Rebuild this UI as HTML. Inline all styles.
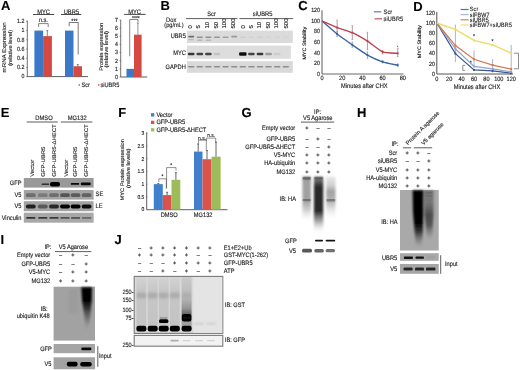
<!DOCTYPE html>
<html><head><meta charset="utf-8"><title>Figure</title>
<style>html,body{margin:0;padding:0;background:#fff;width:520px;height:370px;overflow:hidden}svg{display:block;filter:blur(0.3px)}text{stroke:#222;stroke-width:0.12px;paint-order:stroke;text-rendering:geometricPrecision}</style>
</head><body>
<svg width="520" height="370" viewBox="0 0 520 370" font-family="'Liberation Sans', Arial, sans-serif"><defs>
<filter id="b3" x="-50%" y="-50%" width="200%" height="200%"><feGaussianBlur stdDeviation="0.3"/></filter>
<filter id="b4" x="-50%" y="-50%" width="200%" height="200%"><feGaussianBlur stdDeviation="0.4"/></filter>
<filter id="b5" x="-50%" y="-50%" width="200%" height="200%"><feGaussianBlur stdDeviation="0.5"/></filter>
<filter id="b6" x="-50%" y="-50%" width="200%" height="200%"><feGaussianBlur stdDeviation="0.6"/></filter>
<filter id="b7" x="-50%" y="-50%" width="200%" height="200%"><feGaussianBlur stdDeviation="0.7"/></filter>
<filter id="b8" x="-50%" y="-50%" width="200%" height="200%"><feGaussianBlur stdDeviation="0.8"/></filter>
<filter id="b12" x="-50%" y="-50%" width="200%" height="200%"><feGaussianBlur stdDeviation="1.2"/></filter>
<filter id="b10" x="-50%" y="-50%" width="200%" height="200%"><feGaussianBlur stdDeviation="1.0"/></filter>
<linearGradient id="gG1" x1="0" y1="0" x2="0" y2="1"><stop offset="0" stop-color="#666" stop-opacity="0.7"/><stop offset="0.12" stop-color="#777" stop-opacity="0.7"/><stop offset="0.55" stop-color="#7a7a7a" stop-opacity="0.7"/><stop offset="0.75" stop-color="#999" stop-opacity="0.5"/><stop offset="1" stop-color="#ddd" stop-opacity="0"/></linearGradient>
<linearGradient id="gG2" x1="0" y1="0" x2="0" y2="1"><stop offset="0" stop-color="#666" stop-opacity="0.75"/><stop offset="0.08" stop-color="#444" stop-opacity="0.85"/><stop offset="0.18" stop-color="#1a1a1a" stop-opacity="0.92"/><stop offset="0.62" stop-color="#1a1a1a" stop-opacity="0.92"/><stop offset="0.8" stop-color="#666" stop-opacity="0.55"/><stop offset="1" stop-color="#ddd" stop-opacity="0"/></linearGradient>
<linearGradient id="gG3" x1="0" y1="0" x2="0" y2="1"><stop offset="0" stop-color="#bbb" stop-opacity="0.35"/><stop offset="0.2" stop-color="#999" stop-opacity="0.45"/><stop offset="0.35" stop-color="#666" stop-opacity="0.6"/><stop offset="0.6" stop-color="#777" stop-opacity="0.55"/><stop offset="1" stop-color="#ddd" stop-opacity="0"/></linearGradient>
<linearGradient id="gH2" x1="0" y1="0" x2="0" y2="1"><stop offset="0" stop-color="#000"/><stop offset="0.58" stop-color="#050505"/><stop offset="0.72" stop-color="#2a2a2a" stop-opacity="0.9"/><stop offset="0.86" stop-color="#606060" stop-opacity="0.55"/><stop offset="1" stop-color="#888" stop-opacity="0"/></linearGradient>
<linearGradient id="gH3" x1="0" y1="0" x2="0" y2="1"><stop offset="0" stop-color="#555" stop-opacity="0.6"/><stop offset="0.25" stop-color="#555" stop-opacity="0.62"/><stop offset="0.5" stop-color="#333" stop-opacity="0.8"/><stop offset="0.7" stop-color="#3a3a3a" stop-opacity="0.75"/><stop offset="0.88" stop-color="#666" stop-opacity="0.4"/><stop offset="1" stop-color="#999" stop-opacity="0"/></linearGradient>
<linearGradient id="gI3" x1="0" y1="0" x2="0" y2="1"><stop offset="0" stop-color="#000"/><stop offset="0.3" stop-color="#000"/><stop offset="0.5" stop-color="#222" stop-opacity="0.85"/><stop offset="0.75" stop-color="#555" stop-opacity="0.55"/><stop offset="1" stop-color="#888" stop-opacity="0"/></linearGradient>
<linearGradient id="gJ1" x1="0" y1="0" x2="0" y2="1"><stop offset="0" stop-color="#aaa" stop-opacity="0.15"/><stop offset="0.25" stop-color="#999" stop-opacity="0.3"/><stop offset="1" stop-color="#999" stop-opacity="0.35"/></linearGradient>
<linearGradient id="gJ5" x1="0" y1="0" x2="0" y2="1"><stop offset="0" stop-color="#999" stop-opacity="0.25"/><stop offset="0.4" stop-color="#888" stop-opacity="0.45"/><stop offset="0.6" stop-color="#666" stop-opacity="0.6"/><stop offset="0.7" stop-color="#444" stop-opacity="0.75"/><stop offset="0.85" stop-color="#777" stop-opacity="0.6"/><stop offset="1" stop-color="#777" stop-opacity="0.6"/></linearGradient>
</defs><rect width="520" height="370" fill="#fff"/><text x="0.90" y="10.00" font-size="13" font-weight="bold" fill="#000">A</text>
<line x1="27.30" y1="20.50" x2="27.30" y2="76.60" stroke="#333" stroke-width="0.7"/>
<line x1="27.30" y1="76.60" x2="88.00" y2="76.60" stroke="#333" stroke-width="0.8"/>
<text x="24.40" y="78.40" font-size="5.3" text-anchor="end" fill="#1a1a1a" transform="translate(0 -9.408) scale(1 1.12)">0</text>
<line x1="26.10" y1="76.60" x2="27.30" y2="76.60" stroke="#333" stroke-width="0.5"/>
<text x="24.40" y="69.20" font-size="5.3" text-anchor="end" fill="#1a1a1a" transform="translate(0 -8.304) scale(1 1.12)">0.2</text>
<line x1="26.10" y1="67.40" x2="27.30" y2="67.40" stroke="#333" stroke-width="0.5"/>
<text x="24.40" y="60.00" font-size="5.3" text-anchor="end" fill="#1a1a1a" transform="translate(0 -7.200) scale(1 1.12)">0.4</text>
<line x1="26.10" y1="58.20" x2="27.30" y2="58.20" stroke="#333" stroke-width="0.5"/>
<text x="24.40" y="50.80" font-size="5.3" text-anchor="end" fill="#1a1a1a" transform="translate(0 -6.096) scale(1 1.12)">0.6</text>
<line x1="26.10" y1="49.00" x2="27.30" y2="49.00" stroke="#333" stroke-width="0.5"/>
<text x="24.40" y="41.60" font-size="5.3" text-anchor="end" fill="#1a1a1a" transform="translate(0 -4.992) scale(1 1.12)">0.8</text>
<line x1="26.10" y1="39.80" x2="27.30" y2="39.80" stroke="#333" stroke-width="0.5"/>
<text x="24.40" y="32.40" font-size="5.3" text-anchor="end" fill="#1a1a1a" transform="translate(0 -3.888) scale(1 1.12)">1</text>
<line x1="26.10" y1="30.60" x2="27.30" y2="30.60" stroke="#333" stroke-width="0.5"/>
<text x="24.40" y="23.20" font-size="5.3" text-anchor="end" fill="#1a1a1a" transform="translate(0 -2.784) scale(1 1.12)">1.2</text>
<line x1="26.10" y1="21.40" x2="27.30" y2="21.40" stroke="#333" stroke-width="0.5"/>
<text x="6.20" y="47.40" font-size="5.536" text-anchor="middle" fill="#1a1a1a" transform="translate(6.20 47.40) scale(1 1.12) rotate(-90) translate(-6.20 -47.40)">mRNA Expression</text>
<text x="12.50" y="47.90" font-size="5.179" text-anchor="middle" fill="#1a1a1a" transform="translate(12.50 47.90) scale(1 1.12) rotate(-90) translate(-12.50 -47.90)">(relative level)</text>
<rect x="34.40" y="30.60" width="8.70" height="46.00" fill="#3b78c8"/>
<rect x="43.10" y="36.12" width="8.80" height="40.48" fill="#d44a43"/>
<rect x="65.00" y="30.60" width="8.50" height="46.00" fill="#3b78c8"/>
<rect x="73.50" y="66.25" width="8.50" height="10.35" fill="#d44a43"/>
<line x1="47.30" y1="36.12" x2="47.30" y2="30.60" stroke="#333" stroke-width="0.6"/>
<line x1="46.30" y1="30.60" x2="48.30" y2="30.60" stroke="#333" stroke-width="0.6"/>
<line x1="77.80" y1="66.25" x2="77.80" y2="64.64" stroke="#333" stroke-width="0.6"/>
<line x1="76.80" y1="64.64" x2="78.80" y2="64.64" stroke="#333" stroke-width="0.6"/>
<line x1="38.70" y1="30.60" x2="38.70" y2="30.37" stroke="#333" stroke-width="0.6"/>
<polyline points="38.60,27.00 38.60,23.60 48.20,23.60 48.20,27.00" fill="none" stroke="#333" stroke-width="0.6"/>
<text x="43.40" y="21.60" font-size="5.6" text-anchor="middle" fill="#1a1a1a" transform="translate(0 -2.592) scale(1 1.12)">n.s.</text>
<polyline points="69.20,26.30 69.20,22.50 78.20,22.50 78.20,54.50" fill="none" stroke="#333" stroke-width="0.65"/>
<text x="74.50" y="23.30" font-size="5.4" text-anchor="middle" fill="#1a1a1a" transform="translate(0 -2.796) scale(1 1.12)">***</text>
<text x="43.60" y="13.80" font-size="5.8" text-anchor="middle" fill="#1a1a1a" transform="translate(0 -1.656) scale(1 1.12)">MYC</text>
<line x1="33.00" y1="14.50" x2="54.20" y2="14.50" stroke="#333" stroke-width="0.9"/>
<text x="71.40" y="13.80" font-size="5.8" text-anchor="middle" fill="#1a1a1a" transform="translate(0 -1.656) scale(1 1.12)">UBR5</text>
<line x1="61.00" y1="14.50" x2="81.20" y2="14.50" stroke="#333" stroke-width="0.9"/>
<rect x="78.60" y="84.20" width="1.40" height="1.40" fill="#3b78c8"/>
<text x="81.50" y="86.90" font-size="5.6" fill="#1a1a1a" transform="translate(0 -10.428) scale(1 1.12)">Scr</text>
<rect x="98.00" y="84.20" width="1.40" height="1.40" fill="#d44a43"/>
<text x="100.40" y="86.90" font-size="5.6" fill="#1a1a1a" transform="translate(0 -10.428) scale(1 1.12)">siUBR5</text>
<line x1="120.70" y1="19.80" x2="120.70" y2="77.00" stroke="#333" stroke-width="0.7"/>
<line x1="120.70" y1="77.00" x2="147.20" y2="77.00" stroke="#333" stroke-width="0.8"/>
<text x="118.00" y="78.80" font-size="5.3" text-anchor="end" fill="#1a1a1a" transform="translate(0 -9.456) scale(1 1.12)">0</text>
<line x1="119.50" y1="77.00" x2="120.70" y2="77.00" stroke="#333" stroke-width="0.5"/>
<text x="118.00" y="70.66" font-size="5.3" text-anchor="end" fill="#1a1a1a" transform="translate(0 -8.479) scale(1 1.12)">1</text>
<line x1="119.50" y1="68.86" x2="120.70" y2="68.86" stroke="#333" stroke-width="0.5"/>
<text x="118.00" y="62.52" font-size="5.3" text-anchor="end" fill="#1a1a1a" transform="translate(0 -7.502) scale(1 1.12)">2</text>
<line x1="119.50" y1="60.72" x2="120.70" y2="60.72" stroke="#333" stroke-width="0.5"/>
<text x="118.00" y="54.38" font-size="5.3" text-anchor="end" fill="#1a1a1a" transform="translate(0 -6.526) scale(1 1.12)">3</text>
<line x1="119.50" y1="52.58" x2="120.70" y2="52.58" stroke="#333" stroke-width="0.5"/>
<text x="118.00" y="46.24" font-size="5.3" text-anchor="end" fill="#1a1a1a" transform="translate(0 -5.549) scale(1 1.12)">4</text>
<line x1="119.50" y1="44.44" x2="120.70" y2="44.44" stroke="#333" stroke-width="0.5"/>
<text x="118.00" y="38.10" font-size="5.3" text-anchor="end" fill="#1a1a1a" transform="translate(0 -4.572) scale(1 1.12)">5</text>
<line x1="119.50" y1="36.30" x2="120.70" y2="36.30" stroke="#333" stroke-width="0.5"/>
<text x="118.00" y="29.96" font-size="5.3" text-anchor="end" fill="#1a1a1a" transform="translate(0 -3.595) scale(1 1.12)">6</text>
<line x1="119.50" y1="28.16" x2="120.70" y2="28.16" stroke="#333" stroke-width="0.5"/>
<text x="118.00" y="21.82" font-size="5.3" text-anchor="end" fill="#1a1a1a" transform="translate(0 -2.618) scale(1 1.12)">7</text>
<line x1="119.50" y1="20.02" x2="120.70" y2="20.02" stroke="#333" stroke-width="0.5"/>
<text x="103.20" y="46.80" font-size="5.179" text-anchor="middle" fill="#1a1a1a" transform="translate(103.20 46.80) scale(1 1.12) rotate(-90) translate(-103.20 -46.80)">Protein expression</text>
<text x="108.40" y="49.20" font-size="5.268" text-anchor="middle" fill="#1a1a1a" transform="translate(108.40 49.20) scale(1 1.12) rotate(-90) translate(-108.40 -49.20)">(relative level)</text>
<rect x="126.50" y="68.86" width="7.50" height="8.14" fill="#3b78c8"/>
<rect x="134.00" y="34.67" width="7.60" height="42.33" fill="#d44a43"/>
<line x1="137.90" y1="34.67" x2="137.90" y2="23.00" stroke="#444" stroke-width="0.6"/>
<line x1="136.90" y1="23.00" x2="138.90" y2="23.00" stroke="#444" stroke-width="0.6"/>
<polyline points="129.70,56.30 129.70,19.50 138.00,19.50 138.00,22.00" fill="none" stroke="#333" stroke-width="0.6"/>
<text x="135.90" y="20.40" font-size="5.0" text-anchor="middle" fill="#1a1a1a" transform="translate(0 -2.448) scale(1 1.12)">****</text>
<text x="134.60" y="13.80" font-size="5.8" text-anchor="middle" fill="#1a1a1a" transform="translate(0 -1.656) scale(1 1.12)">MYC</text>
<line x1="124.20" y1="14.40" x2="145.60" y2="14.40" stroke="#333" stroke-width="0.9"/>
<text x="160.50" y="10.20" font-size="13" font-weight="bold" fill="#000">B</text>
<text x="166.00" y="22.20" font-size="5.8" fill="#1a1a1a" transform="translate(0 -2.664) scale(1 1.12)">Dox</text>
<text x="164.30" y="27.40" font-size="5.6" fill="#1a1a1a" transform="translate(0 -3.288) scale(1 1.12)">(pg/mL)</text>
<text x="211.60" y="16.40" font-size="5.8" text-anchor="middle" fill="#1a1a1a" transform="translate(0 -1.968) scale(1 1.12)">Scr</text>
<line x1="186.00" y1="18.60" x2="237.40" y2="18.60" stroke="#333" stroke-width="0.8"/>
<text x="262.60" y="16.40" font-size="5.8" text-anchor="middle" fill="#1a1a1a" transform="translate(0 -1.968) scale(1 1.12)">siUBR5</text>
<line x1="239.40" y1="18.60" x2="293.20" y2="18.60" stroke="#333" stroke-width="0.8"/>
<text x="192.00" y="28.60" font-size="5.536" fill="#1a1a1a" transform="translate(192.00 28.60) scale(1 1.12) rotate(-90) translate(-192.00 -28.60)">0</text>
<text x="200.10" y="28.60" font-size="5.536" fill="#1a1a1a" transform="translate(200.10 28.60) scale(1 1.12) rotate(-90) translate(-200.10 -28.60)">5</text>
<text x="208.80" y="28.60" font-size="5.536" fill="#1a1a1a" transform="translate(208.80 28.60) scale(1 1.12) rotate(-90) translate(-208.80 -28.60)">10</text>
<text x="217.60" y="28.60" font-size="5.536" fill="#1a1a1a" transform="translate(217.60 28.60) scale(1 1.12) rotate(-90) translate(-217.60 -28.60)">50</text>
<text x="226.50" y="28.60" font-size="5.536" fill="#1a1a1a" transform="translate(226.50 28.60) scale(1 1.12) rotate(-90) translate(-226.50 -28.60)">100</text>
<text x="235.40" y="28.60" font-size="5.536" fill="#1a1a1a" transform="translate(235.40 28.60) scale(1 1.12) rotate(-90) translate(-235.40 -28.60)">500</text>
<text x="244.80" y="28.60" font-size="5.536" fill="#1a1a1a" transform="translate(244.80 28.60) scale(1 1.12) rotate(-90) translate(-244.80 -28.60)">0</text>
<text x="253.20" y="28.60" font-size="5.536" fill="#1a1a1a" transform="translate(253.20 28.60) scale(1 1.12) rotate(-90) translate(-253.20 -28.60)">5</text>
<text x="261.00" y="28.60" font-size="5.536" fill="#1a1a1a" transform="translate(261.00 28.60) scale(1 1.12) rotate(-90) translate(-261.00 -28.60)">10</text>
<text x="269.80" y="28.60" font-size="5.536" fill="#1a1a1a" transform="translate(269.80 28.60) scale(1 1.12) rotate(-90) translate(-269.80 -28.60)">50</text>
<text x="278.50" y="28.60" font-size="5.536" fill="#1a1a1a" transform="translate(278.50 28.60) scale(1 1.12) rotate(-90) translate(-278.50 -28.60)">100</text>
<text x="287.80" y="28.60" font-size="5.536" fill="#1a1a1a" transform="translate(287.80 28.60) scale(1 1.12) rotate(-90) translate(-287.80 -28.60)">500</text>
<rect x="187.00" y="30.60" width="105.80" height="12.40" fill="#dbdbdb"/>
<rect x="187.00" y="45.60" width="103.80" height="13.20" fill="#dddddd"/>
<rect x="187.00" y="61.20" width="105.80" height="11.60" fill="#d9d9d9"/>
<text x="185.80" y="38.30" font-size="5.7" text-anchor="end" fill="#1a1a1a" transform="translate(0 -4.596) scale(1 1.12)">UBR5</text>
<text x="185.80" y="55.30" font-size="5.7" text-anchor="end" fill="#1a1a1a" transform="translate(0 -6.636) scale(1 1.12)">MYC</text>
<text x="185.80" y="69.20" font-size="5.7" text-anchor="end" fill="#1a1a1a" transform="translate(0 -8.304) scale(1 1.12)">GAPDH</text>
<rect x="188.20" y="35.80" width="6.00" height="1.60" rx="0.8" fill="#222" fill-opacity="0.60" filter="url(#b4)"/>
<rect x="188.40" y="38.90" width="5.60" height="1.30" rx="0.6" fill="#444" fill-opacity="0.22" filter="url(#b5)"/>
<rect x="196.80" y="36.50" width="6.00" height="1.60" rx="0.8" fill="#222" fill-opacity="0.42" filter="url(#b4)"/>
<rect x="197.00" y="39.60" width="5.60" height="1.30" rx="0.6" fill="#444" fill-opacity="0.22" filter="url(#b5)"/>
<rect x="205.40" y="36.50" width="6.00" height="1.60" rx="0.8" fill="#222" fill-opacity="0.42" filter="url(#b4)"/>
<rect x="205.60" y="39.60" width="5.60" height="1.30" rx="0.6" fill="#444" fill-opacity="0.22" filter="url(#b5)"/>
<rect x="214.00" y="36.50" width="6.00" height="1.60" rx="0.8" fill="#222" fill-opacity="0.38" filter="url(#b4)"/>
<rect x="222.60" y="36.50" width="6.00" height="1.60" rx="0.8" fill="#222" fill-opacity="0.32" filter="url(#b4)"/>
<rect x="231.20" y="35.80" width="6.00" height="1.60" rx="0.8" fill="#222" fill-opacity="0.35" filter="url(#b4)"/>
<rect x="239.80" y="36.50" width="6.00" height="1.60" rx="0.8" fill="#222" fill-opacity="0.06" filter="url(#b4)"/>
<rect x="248.40" y="36.50" width="6.00" height="1.60" rx="0.8" fill="#222" fill-opacity="0.04" filter="url(#b4)"/>
<rect x="257.00" y="36.50" width="6.00" height="1.60" rx="0.8" fill="#222" fill-opacity="0.05" filter="url(#b4)"/>
<rect x="265.60" y="36.50" width="6.00" height="1.60" rx="0.8" fill="#222" fill-opacity="0.03" filter="url(#b4)"/>
<rect x="274.20" y="36.50" width="6.00" height="1.60" rx="0.8" fill="#222" fill-opacity="0.03" filter="url(#b4)"/>
<rect x="282.80" y="36.50" width="6.00" height="1.60" rx="0.8" fill="#222" fill-opacity="0.03" filter="url(#b4)"/>
<rect x="187.90" y="52.70" width="6.60" height="2.60" rx="1.0" fill="#111" fill-opacity="0.80" filter="url(#b4)"/>
<rect x="196.50" y="52.70" width="6.60" height="2.60" rx="1.0" fill="#111" fill-opacity="0.75" filter="url(#b4)"/>
<rect x="205.10" y="52.70" width="6.60" height="2.60" rx="1.0" fill="#111" fill-opacity="0.75" filter="url(#b4)"/>
<rect x="213.70" y="52.70" width="6.60" height="2.60" rx="1.0" fill="#111" fill-opacity="0.12" filter="url(#b4)"/>
<rect x="239.10" y="52.30" width="7.40" height="3.40" rx="1.0" fill="#111" fill-opacity="1.00" filter="url(#b4)"/>
<rect x="248.10" y="52.70" width="6.60" height="2.60" rx="1.0" fill="#111" fill-opacity="0.75" filter="url(#b4)"/>
<rect x="256.70" y="52.70" width="6.60" height="2.60" rx="1.0" fill="#111" fill-opacity="0.80" filter="url(#b4)"/>
<rect x="265.30" y="52.70" width="6.60" height="2.60" rx="1.0" fill="#111" fill-opacity="0.30" filter="url(#b4)"/>
<rect x="273.90" y="52.70" width="6.60" height="2.60" rx="1.0" fill="#111" fill-opacity="0.07" filter="url(#b4)"/>
<rect x="188.00" y="66.00" width="6.40" height="1.50" rx="0.7" fill="#444" fill-opacity="0.50" filter="url(#b4)"/>
<rect x="196.60" y="66.00" width="6.40" height="1.50" rx="0.7" fill="#444" fill-opacity="0.50" filter="url(#b4)"/>
<rect x="205.20" y="66.00" width="6.40" height="1.50" rx="0.7" fill="#444" fill-opacity="0.50" filter="url(#b4)"/>
<rect x="213.80" y="66.00" width="6.40" height="1.50" rx="0.7" fill="#444" fill-opacity="0.50" filter="url(#b4)"/>
<rect x="222.40" y="66.00" width="6.40" height="1.50" rx="0.7" fill="#444" fill-opacity="0.50" filter="url(#b4)"/>
<rect x="231.00" y="66.00" width="6.40" height="1.50" rx="0.7" fill="#444" fill-opacity="0.50" filter="url(#b4)"/>
<rect x="239.60" y="66.00" width="6.40" height="1.50" rx="0.7" fill="#444" fill-opacity="0.50" filter="url(#b4)"/>
<rect x="248.20" y="66.00" width="6.40" height="1.50" rx="0.7" fill="#444" fill-opacity="0.50" filter="url(#b4)"/>
<rect x="256.80" y="66.00" width="6.40" height="1.50" rx="0.7" fill="#444" fill-opacity="0.50" filter="url(#b4)"/>
<rect x="265.40" y="66.00" width="6.40" height="1.50" rx="0.7" fill="#444" fill-opacity="0.50" filter="url(#b4)"/>
<rect x="274.00" y="66.00" width="6.40" height="1.50" rx="0.7" fill="#444" fill-opacity="0.50" filter="url(#b4)"/>
<rect x="282.60" y="66.00" width="6.40" height="1.50" rx="0.7" fill="#444" fill-opacity="0.50" filter="url(#b4)"/>
<text x="298.20" y="10.40" font-size="13" font-weight="bold" fill="#000">C</text>
<line x1="322.00" y1="10.20" x2="322.00" y2="74.00" stroke="#6a6a6a" stroke-width="1.1"/>
<line x1="322.00" y1="74.00" x2="403.50" y2="74.00" stroke="#6a6a6a" stroke-width="1.1"/>
<text x="320.00" y="75.80" font-size="5.3" text-anchor="end" fill="#1a1a1a" transform="translate(0 -9.096) scale(1 1.12)">0</text>
<text x="320.00" y="65.20" font-size="5.3" text-anchor="end" fill="#1a1a1a" transform="translate(0 -7.824) scale(1 1.12)">20</text>
<text x="320.00" y="54.60" font-size="5.3" text-anchor="end" fill="#1a1a1a" transform="translate(0 -6.552) scale(1 1.12)">40</text>
<text x="320.00" y="44.00" font-size="5.3" text-anchor="end" fill="#1a1a1a" transform="translate(0 -5.280) scale(1 1.12)">60</text>
<text x="320.00" y="33.40" font-size="5.3" text-anchor="end" fill="#1a1a1a" transform="translate(0 -4.008) scale(1 1.12)">80</text>
<text x="320.00" y="22.80" font-size="5.3" text-anchor="end" fill="#1a1a1a" transform="translate(0 -2.736) scale(1 1.12)">100</text>
<text x="320.00" y="12.20" font-size="5.3" text-anchor="end" fill="#1a1a1a" transform="translate(0 -1.464) scale(1 1.12)">120</text>
<text x="322.00" y="79.80" font-size="5.6" text-anchor="middle" fill="#1a1a1a" transform="translate(0 -9.576) scale(1 1.12)">0</text>
<text x="342.20" y="79.80" font-size="5.6" text-anchor="middle" fill="#1a1a1a" transform="translate(0 -9.576) scale(1 1.12)">20</text>
<text x="362.40" y="79.80" font-size="5.6" text-anchor="middle" fill="#1a1a1a" transform="translate(0 -9.576) scale(1 1.12)">40</text>
<text x="382.60" y="79.80" font-size="5.6" text-anchor="middle" fill="#1a1a1a" transform="translate(0 -9.576) scale(1 1.12)">60</text>
<text x="402.80" y="79.80" font-size="5.6" text-anchor="middle" fill="#1a1a1a" transform="translate(0 -9.576) scale(1 1.12)">80</text>
<text x="364.30" y="88.10" font-size="5.7" text-anchor="middle" fill="#1a1a1a" transform="translate(0 -10.572) scale(1 1.12)">Minutes after CHX</text>
<text x="305.60" y="43.30" font-size="4.911" text-anchor="middle" fill="#1a1a1a" transform="translate(305.60 43.30) scale(1 1.12) rotate(-90) translate(-305.60 -43.30)">MYC Stability</text>
<line x1="337.15" y1="20.20" x2="337.15" y2="35.00" stroke="#a0808c" stroke-width="0.8"/>
<line x1="336.35" y1="20.20" x2="337.95" y2="20.20" stroke="#a0808c" stroke-width="0.6"/>
<line x1="336.35" y1="35.00" x2="337.95" y2="35.00" stroke="#a0808c" stroke-width="0.6"/>
<line x1="352.30" y1="25.70" x2="352.30" y2="39.50" stroke="#a0808c" stroke-width="0.8"/>
<line x1="351.50" y1="25.70" x2="353.10" y2="25.70" stroke="#a0808c" stroke-width="0.6"/>
<line x1="351.50" y1="39.50" x2="353.10" y2="39.50" stroke="#a0808c" stroke-width="0.6"/>
<line x1="367.45" y1="32.30" x2="367.45" y2="49.70" stroke="#a0808c" stroke-width="0.8"/>
<line x1="366.65" y1="32.30" x2="368.25" y2="32.30" stroke="#a0808c" stroke-width="0.6"/>
<line x1="366.65" y1="49.70" x2="368.25" y2="49.70" stroke="#a0808c" stroke-width="0.6"/>
<line x1="382.60" y1="50.30" x2="382.60" y2="54.00" stroke="#a0808c" stroke-width="0.8"/>
<line x1="381.80" y1="50.30" x2="383.40" y2="50.30" stroke="#a0808c" stroke-width="0.6"/>
<line x1="381.80" y1="54.00" x2="383.40" y2="54.00" stroke="#a0808c" stroke-width="0.6"/>
<line x1="397.75" y1="48.60" x2="397.75" y2="56.50" stroke="#a0808c" stroke-width="0.8"/>
<line x1="396.95" y1="48.60" x2="398.55" y2="48.60" stroke="#a0808c" stroke-width="0.6"/>
<line x1="396.95" y1="56.50" x2="398.55" y2="56.50" stroke="#a0808c" stroke-width="0.6"/>
<line x1="337.15" y1="31.50" x2="337.15" y2="36.50" stroke="#8090b0" stroke-width="0.8"/>
<line x1="336.35" y1="31.50" x2="337.95" y2="31.50" stroke="#8090b0" stroke-width="0.6"/>
<line x1="336.35" y1="36.50" x2="337.95" y2="36.50" stroke="#8090b0" stroke-width="0.6"/>
<line x1="352.30" y1="42.00" x2="352.30" y2="47.30" stroke="#8090b0" stroke-width="0.8"/>
<line x1="351.50" y1="42.00" x2="353.10" y2="42.00" stroke="#8090b0" stroke-width="0.6"/>
<line x1="351.50" y1="47.30" x2="353.10" y2="47.30" stroke="#8090b0" stroke-width="0.6"/>
<line x1="367.45" y1="51.80" x2="367.45" y2="58.40" stroke="#8090b0" stroke-width="0.8"/>
<line x1="366.65" y1="51.80" x2="368.25" y2="51.80" stroke="#8090b0" stroke-width="0.6"/>
<line x1="366.65" y1="58.40" x2="368.25" y2="58.40" stroke="#8090b0" stroke-width="0.6"/>
<line x1="382.60" y1="60.40" x2="382.60" y2="63.00" stroke="#8090b0" stroke-width="0.8"/>
<line x1="381.80" y1="60.40" x2="383.40" y2="60.40" stroke="#8090b0" stroke-width="0.6"/>
<line x1="381.80" y1="63.00" x2="383.40" y2="63.00" stroke="#8090b0" stroke-width="0.6"/>
<line x1="397.75" y1="63.80" x2="397.75" y2="66.60" stroke="#8090b0" stroke-width="0.8"/>
<line x1="396.95" y1="63.80" x2="398.55" y2="63.80" stroke="#8090b0" stroke-width="0.6"/>
<line x1="396.95" y1="66.60" x2="398.55" y2="66.60" stroke="#8090b0" stroke-width="0.6"/>
<text x="397.75" y="49.00" font-size="4.5" text-anchor="middle" fill="#1a1a1a" transform="translate(0 -5.880) scale(1 1.12)" style="stroke:none">*</text>
<path d="M322.00,21.00 C323.51,22.30 334.12,31.60 337.15,33.98 C340.18,36.37 349.27,42.74 352.30,44.85 C355.33,46.96 364.42,53.38 367.45,55.08 C370.48,56.77 379.57,60.80 382.60,61.81 C385.63,62.82 396.24,64.86 397.75,65.20" fill="none" stroke="#3a62a2" stroke-width="1.3" stroke-linejoin="round"/>
<path d="M322.00,21.00 C323.51,21.65 334.12,26.35 337.15,27.52 C340.18,28.68 349.27,31.30 352.30,32.66 C355.33,34.02 364.42,39.22 367.45,41.14 C370.48,43.06 379.57,50.62 382.60,51.85 C385.63,53.07 396.24,53.23 397.75,53.38" fill="none" stroke="#bd3f4a" stroke-width="1.3" stroke-linejoin="round"/>
<rect x="336.25" y="33.09" width="1.8" height="1.8" fill="#3a62a2"/>
<rect x="351.40" y="43.95" width="1.8" height="1.8" fill="#3a62a2"/>
<rect x="366.55" y="54.18" width="1.8" height="1.8" fill="#3a62a2"/>
<rect x="381.70" y="60.91" width="1.8" height="1.8" fill="#3a62a2"/>
<rect x="396.85" y="64.30" width="1.8" height="1.8" fill="#3a62a2"/>
<rect x="336.25" y="26.62" width="1.8" height="1.8" fill="#bd3f4a"/>
<rect x="351.40" y="31.76" width="1.8" height="1.8" fill="#bd3f4a"/>
<rect x="366.55" y="40.24" width="1.8" height="1.8" fill="#bd3f4a"/>
<rect x="381.70" y="50.95" width="1.8" height="1.8" fill="#bd3f4a"/>
<rect x="396.85" y="52.48" width="1.8" height="1.8" fill="#bd3f4a"/>
<line x1="373.80" y1="11.80" x2="381.30" y2="11.80" stroke="#6a88bb" stroke-width="1.3"/>
<text x="383.60" y="13.90" font-size="5.6" fill="#1a1a1a" transform="translate(0 -1.668) scale(1 1.12)" letter-spacing="0.12">Scr</text>
<line x1="374.50" y1="18.80" x2="382.00" y2="18.80" stroke="#c0606c" stroke-width="1.3"/>
<text x="383.60" y="20.90" font-size="5.6" fill="#1a1a1a" transform="translate(0 -2.508) scale(1 1.12)" letter-spacing="0.12">siUBR5</text>
<text x="413.20" y="10.50" font-size="13" font-weight="bold" fill="#000">D</text>
<line x1="436.80" y1="11.80" x2="436.80" y2="74.00" stroke="#555" stroke-width="1.0"/>
<line x1="436.80" y1="74.00" x2="513.00" y2="74.00" stroke="#555" stroke-width="1.0"/>
<text x="434.90" y="75.80" font-size="5.3" text-anchor="end" fill="#1a1a1a" transform="translate(0 -9.096) scale(1 1.12)">0</text>
<text x="434.90" y="65.60" font-size="5.3" text-anchor="end" fill="#1a1a1a" transform="translate(0 -7.872) scale(1 1.12)">20</text>
<text x="434.90" y="55.40" font-size="5.3" text-anchor="end" fill="#1a1a1a" transform="translate(0 -6.648) scale(1 1.12)">40</text>
<text x="434.90" y="45.20" font-size="5.3" text-anchor="end" fill="#1a1a1a" transform="translate(0 -5.424) scale(1 1.12)">60</text>
<text x="434.90" y="35.00" font-size="5.3" text-anchor="end" fill="#1a1a1a" transform="translate(0 -4.200) scale(1 1.12)">80</text>
<text x="434.90" y="24.80" font-size="5.3" text-anchor="end" fill="#1a1a1a" transform="translate(0 -2.976) scale(1 1.12)">100</text>
<text x="434.90" y="14.60" font-size="5.3" text-anchor="end" fill="#1a1a1a" transform="translate(0 -1.752) scale(1 1.12)">120</text>
<text x="436.80" y="80.60" font-size="5.6" text-anchor="middle" fill="#1a1a1a" transform="translate(0 -9.672) scale(1 1.12)">0</text>
<text x="449.20" y="80.60" font-size="5.6" text-anchor="middle" fill="#1a1a1a" transform="translate(0 -9.672) scale(1 1.12)">20</text>
<text x="461.60" y="80.60" font-size="5.6" text-anchor="middle" fill="#1a1a1a" transform="translate(0 -9.672) scale(1 1.12)">40</text>
<text x="474.00" y="80.60" font-size="5.6" text-anchor="middle" fill="#1a1a1a" transform="translate(0 -9.672) scale(1 1.12)">60</text>
<text x="486.40" y="80.60" font-size="5.6" text-anchor="middle" fill="#1a1a1a" transform="translate(0 -9.672) scale(1 1.12)">80</text>
<text x="498.80" y="80.60" font-size="5.6" text-anchor="middle" fill="#1a1a1a" transform="translate(0 -9.672) scale(1 1.12)">100</text>
<text x="511.20" y="80.60" font-size="5.6" text-anchor="middle" fill="#1a1a1a" transform="translate(0 -9.672) scale(1 1.12)">120</text>
<text x="477.00" y="88.60" font-size="5.7" text-anchor="middle" fill="#1a1a1a" transform="translate(0 -10.632) scale(1 1.12)">Minutes after CHX</text>
<text x="421.00" y="41.80" font-size="4.911" text-anchor="middle" fill="#1a1a1a" transform="translate(421.00 41.80) scale(1 1.12) rotate(-90) translate(-421.00 -41.80)">MYC Stability</text>
<line x1="455.40" y1="24.50" x2="455.40" y2="62.00" stroke="#aab3c8" stroke-width="1.0"/>
<line x1="474.00" y1="50.30" x2="474.00" y2="67.30" stroke="#aab3c8" stroke-width="1.0"/>
<line x1="492.60" y1="59.20" x2="492.60" y2="72.50" stroke="#aab3c8" stroke-width="1.0"/>
<line x1="511.20" y1="45.00" x2="511.20" y2="73.30" stroke="#aab3c8" stroke-width="1.0"/>
<polyline points="436.80,23.00 455.40,53.60 474.00,69.92 492.60,70.94 511.20,73.23" fill="none" stroke="#3f5591" stroke-width="1.2"/>
<rect x="454.40" y="52.60" width="2" height="2" fill="#3f5591"/>
<rect x="473.00" y="68.92" width="2" height="2" fill="#3f5591"/>
<rect x="491.60" y="69.94" width="2" height="2" fill="#3f5591"/>
<rect x="510.20" y="72.23" width="2" height="2" fill="#3f5591"/>
<polyline points="436.80,23.00 455.40,48.75 474.00,66.35 492.60,68.90 511.20,71.81" fill="none" stroke="#8fa6cf" stroke-width="1.2"/>
<rect x="454.40" y="47.75" width="2" height="2" fill="#8fa6cf"/>
<rect x="473.00" y="65.35" width="2" height="2" fill="#8fa6cf"/>
<rect x="491.60" y="67.90" width="2" height="2" fill="#8fa6cf"/>
<rect x="510.20" y="70.81" width="2" height="2" fill="#8fa6cf"/>
<polyline points="436.80,23.00 455.40,45.59 474.00,59.21 492.60,65.08 511.20,69.10" fill="none" stroke="#d6784a" stroke-width="1.2"/>
<rect x="454.40" y="44.59" width="2" height="2" fill="#d6784a"/>
<rect x="473.00" y="58.21" width="2" height="2" fill="#d6784a"/>
<rect x="491.60" y="64.08" width="2" height="2" fill="#d6784a"/>
<rect x="510.20" y="68.10" width="2" height="2" fill="#d6784a"/>
<polyline points="436.80,23.00 455.40,29.38 474.00,40.34 492.60,44.93 511.20,53.09" fill="none" stroke="#eedb66" stroke-width="1.4"/>
<rect x="454.40" y="28.38" width="2" height="2" fill="#eedb66"/>
<rect x="473.00" y="39.34" width="2" height="2" fill="#eedb66"/>
<rect x="491.60" y="43.93" width="2" height="2" fill="#eedb66"/>
<rect x="510.20" y="52.09" width="2" height="2" fill="#eedb66"/>
<text x="474.00" y="38.20" font-size="5.0" text-anchor="middle" fill="#1a1a1a" transform="translate(0 -4.584) scale(1 1.12)">*</text>
<text x="492.60" y="43.40" font-size="5.0" text-anchor="middle" fill="#1a1a1a" transform="translate(0 -5.208) scale(1 1.12)">*</text>
<text x="471.00" y="63.50" font-size="4.5" text-anchor="middle" fill="#1a1a1a" transform="translate(0 -7.620) scale(1 1.12)">*</text>
<polyline points="465.20,65.30 462.80,65.30 462.80,70.40 465.20,70.40" fill="none" stroke="#444" stroke-width="0.6"/>
<polyline points="514.00,53.20 518.50,53.20 518.50,68.80 514.00,68.80" fill="none" stroke="#444" stroke-width="0.6"/>
<line x1="460.60" y1="9.50" x2="468.60" y2="9.50" stroke="#5d6d9c" stroke-width="1.2"/>
<text x="469.80" y="11.40" font-size="5.4" fill="#1a1a1a" transform="translate(0 -1.368) scale(1 1.12)" letter-spacing="0.15">Scr</text>
<line x1="460.60" y1="14.65" x2="468.60" y2="14.65" stroke="#a9b8d6" stroke-width="1.2"/>
<text x="469.80" y="16.55" font-size="5.4" fill="#1a1a1a" transform="translate(0 -1.986) scale(1 1.12)" letter-spacing="0.15">siFBW7</text>
<line x1="460.60" y1="19.80" x2="468.60" y2="19.80" stroke="#c98a55" stroke-width="1.2"/>
<text x="469.80" y="21.70" font-size="5.4" fill="#1a1a1a" transform="translate(0 -2.604) scale(1 1.12)" letter-spacing="0.15">siUBR5</text>
<line x1="460.60" y1="24.95" x2="468.60" y2="24.95" stroke="#efdf7a" stroke-width="1.2"/>
<text x="469.80" y="26.85" font-size="5.4" fill="#1a1a1a" transform="translate(0 -3.222) scale(1 1.12)" letter-spacing="0.15">siFBW7+siUBR5</text>
<text x="0.80" y="117.20" font-size="13" font-weight="bold" fill="#000">E</text>
<text x="44.00" y="120.20" font-size="5.8" text-anchor="middle" fill="#1a1a1a" transform="translate(0 -14.424) scale(1 1.12)">DMSO</text>
<line x1="26.60" y1="122.00" x2="57.80" y2="122.00" stroke="#333" stroke-width="0.8"/>
<text x="77.20" y="120.20" font-size="5.8" text-anchor="middle" fill="#1a1a1a" transform="translate(0 -14.424) scale(1 1.12)">MG132</text>
<line x1="60.80" y1="122.00" x2="92.40" y2="122.00" stroke="#333" stroke-width="0.8"/>
<text x="33.90" y="176.80" font-size="5.357" fill="#1a1a1a" transform="translate(33.90 176.80) scale(1 1.12) rotate(-90) translate(-33.90 -176.80)">Vector</text>
<text x="44.90" y="176.80" font-size="5.357" fill="#1a1a1a" transform="translate(44.90 176.80) scale(1 1.12) rotate(-90) translate(-44.90 -176.80)">GFP-UBR5</text>
<text x="56.10" y="176.80" font-size="5.357" fill="#1a1a1a" transform="translate(56.10 176.80) scale(1 1.12) rotate(-90) translate(-56.10 -176.80)">GFP-UBR5-ΔHECT</text>
<text x="68.10" y="176.80" font-size="5.357" fill="#1a1a1a" transform="translate(68.10 176.80) scale(1 1.12) rotate(-90) translate(-68.10 -176.80)">Vector</text>
<text x="76.90" y="176.80" font-size="5.357" fill="#1a1a1a" transform="translate(76.90 176.80) scale(1 1.12) rotate(-90) translate(-76.90 -176.80)">GFP-UBR5</text>
<text x="87.90" y="176.80" font-size="5.357" fill="#1a1a1a" transform="translate(87.90 176.80) scale(1 1.12) rotate(-90) translate(-87.90 -176.80)">GFP-UBR5-ΔHECT</text>
<rect x="23.80" y="178.00" width="69.80" height="9.60" fill="#999999"/>
<text x="21.50" y="184.80" font-size="5.7" text-anchor="end" fill="#1a1a1a" transform="translate(0 -22.176) scale(1 1.12)">GFP</text>
<rect x="23.80" y="190.00" width="69.80" height="9.60" fill="#a3a3a3"/>
<text x="21.50" y="196.80" font-size="5.7" text-anchor="end" fill="#1a1a1a" transform="translate(0 -23.616) scale(1 1.12)">V5</text>
<rect x="23.80" y="201.20" width="69.80" height="10.00" fill="#a2a2a2"/>
<text x="21.50" y="208.20" font-size="5.7" text-anchor="end" fill="#1a1a1a" transform="translate(0 -24.984) scale(1 1.12)">V5</text>
<rect x="23.80" y="212.70" width="69.80" height="10.00" fill="#a8a8a8"/>
<text x="21.50" y="219.70" font-size="5.7" text-anchor="end" fill="#1a1a1a" transform="translate(0 -26.364) scale(1 1.12)">Vinculin</text>
<text x="95.60" y="196.00" font-size="5.8" fill="#1a1a1a" transform="translate(0 -23.520) scale(1 1.12)">SE</text>
<text x="95.60" y="207.80" font-size="5.8" fill="#1a1a1a" transform="translate(0 -24.936) scale(1 1.12)">LE</text>
<rect x="41.50" y="183.50" width="7.70" height="1.40" rx="0.7" fill="#111" fill-opacity="0.75" filter="url(#b4)"/>
<rect x="50.00" y="181.90" width="10.00" height="4.60" rx="2" fill="#000" fill-opacity="1.00" filter="url(#b5)"/>
<rect x="70.80" y="182.90" width="8.40" height="1.90" rx="0.9" fill="#000" fill-opacity="0.95" filter="url(#b4)"/>
<rect x="80.80" y="182.50" width="10.00" height="2.80" rx="1.2" fill="#000" fill-opacity="0.95" filter="url(#b4)"/>
<rect x="26.00" y="193.30" width="9.60" height="3.60" rx="1.5" fill="#222" fill-opacity="0.42" filter="url(#b6)"/>
<rect x="38.00" y="193.30" width="9.60" height="3.60" rx="1.5" fill="#222" fill-opacity="0.30" filter="url(#b6)"/>
<rect x="49.20" y="193.30" width="9.60" height="3.60" rx="1.5" fill="#222" fill-opacity="0.42" filter="url(#b6)"/>
<rect x="60.20" y="193.30" width="9.60" height="3.60" rx="1.5" fill="#222" fill-opacity="0.62" filter="url(#b6)"/>
<rect x="70.80" y="193.30" width="9.60" height="3.60" rx="1.5" fill="#222" fill-opacity="0.55" filter="url(#b6)"/>
<rect x="81.80" y="193.30" width="9.60" height="3.60" rx="1.5" fill="#222" fill-opacity="0.50" filter="url(#b6)"/>
<rect x="25.90" y="204.40" width="9.80" height="4.20" rx="1.8" fill="#000" fill-opacity="0.80" filter="url(#b6)"/>
<rect x="37.90" y="204.40" width="9.80" height="4.20" rx="1.8" fill="#000" fill-opacity="0.45" filter="url(#b6)"/>
<rect x="49.10" y="204.40" width="9.80" height="4.20" rx="1.8" fill="#000" fill-opacity="0.75" filter="url(#b6)"/>
<rect x="60.10" y="204.40" width="9.80" height="4.20" rx="1.8" fill="#000" fill-opacity="1.00" filter="url(#b6)"/>
<rect x="70.70" y="204.40" width="9.80" height="4.20" rx="1.8" fill="#000" fill-opacity="1.00" filter="url(#b6)"/>
<rect x="81.70" y="204.40" width="9.80" height="4.20" rx="1.8" fill="#000" fill-opacity="0.92" filter="url(#b6)"/>
<rect x="26.20" y="216.90" width="9.20" height="1.90" rx="0.9" fill="#111" fill-opacity="0.80" filter="url(#b5)"/>
<rect x="38.20" y="216.90" width="9.20" height="1.90" rx="0.9" fill="#111" fill-opacity="0.75" filter="url(#b5)"/>
<rect x="49.40" y="216.90" width="9.20" height="1.90" rx="0.9" fill="#111" fill-opacity="0.72" filter="url(#b5)"/>
<rect x="60.40" y="216.90" width="9.20" height="1.90" rx="0.9" fill="#111" fill-opacity="0.60" filter="url(#b5)"/>
<rect x="71.00" y="216.90" width="9.20" height="1.90" rx="0.9" fill="#111" fill-opacity="0.55" filter="url(#b5)"/>
<rect x="82.00" y="216.90" width="9.20" height="1.90" rx="0.9" fill="#111" fill-opacity="0.42" filter="url(#b5)"/>
<text x="118.30" y="117.20" font-size="13" font-weight="bold" fill="#000">F</text>
<line x1="146.60" y1="132.40" x2="146.60" y2="209.60" stroke="#7d7d7d" stroke-width="1.3"/>
<line x1="146.60" y1="209.60" x2="227.50" y2="209.60" stroke="#7d7d7d" stroke-width="1.3"/>
<text x="144.40" y="211.40" font-size="5.0" text-anchor="end" fill="#1a1a1a" transform="translate(0 -25.368) scale(1 1.12)">0</text>
<line x1="146.60" y1="209.60" x2="147.60" y2="209.60" stroke="#555" stroke-width="0.5"/>
<text x="144.40" y="198.68" font-size="5.0" text-anchor="end" fill="#1a1a1a" transform="translate(0 -23.841) scale(1 1.12)">0.5</text>
<line x1="146.60" y1="196.88" x2="147.60" y2="196.88" stroke="#555" stroke-width="0.5"/>
<text x="144.40" y="185.95" font-size="5.0" text-anchor="end" fill="#1a1a1a" transform="translate(0 -22.314) scale(1 1.12)">1</text>
<line x1="146.60" y1="184.15" x2="147.60" y2="184.15" stroke="#555" stroke-width="0.5"/>
<text x="144.40" y="173.23" font-size="5.0" text-anchor="end" fill="#1a1a1a" transform="translate(0 -20.787) scale(1 1.12)">1.5</text>
<line x1="146.60" y1="171.43" x2="147.60" y2="171.43" stroke="#555" stroke-width="0.5"/>
<text x="144.40" y="160.50" font-size="5.0" text-anchor="end" fill="#1a1a1a" transform="translate(0 -19.260) scale(1 1.12)">2</text>
<line x1="146.60" y1="158.70" x2="147.60" y2="158.70" stroke="#555" stroke-width="0.5"/>
<text x="144.40" y="147.78" font-size="5.0" text-anchor="end" fill="#1a1a1a" transform="translate(0 -17.733) scale(1 1.12)">2.5</text>
<line x1="146.60" y1="145.97" x2="147.60" y2="145.97" stroke="#555" stroke-width="0.5"/>
<text x="144.40" y="135.05" font-size="5.0" text-anchor="end" fill="#1a1a1a" transform="translate(0 -16.206) scale(1 1.12)">3</text>
<line x1="146.60" y1="133.25" x2="147.60" y2="133.25" stroke="#555" stroke-width="0.5"/>
<text x="124.00" y="169.80" font-size="5.089" text-anchor="middle" fill="#1a1a1a" transform="translate(124.00 169.80) scale(1 1.12) rotate(-90) translate(-124.00 -169.80)">MYC Protein expression</text>
<text x="130.40" y="168.20" font-size="5.268" text-anchor="middle" fill="#1a1a1a" transform="translate(130.40 168.20) scale(1 1.12) rotate(-90) translate(-130.40 -168.20)">(relative levels)</text>
<rect x="153.80" y="184.15" width="9.00" height="25.45" fill="#3f7fcc"/>
<rect x="162.80" y="195.09" width="8.70" height="14.51" fill="#d9534a"/>
<rect x="171.50" y="179.82" width="8.80" height="29.78" fill="#9cbc5a"/>
<rect x="194.00" y="151.57" width="8.50" height="58.03" fill="#3f7fcc"/>
<rect x="202.50" y="159.21" width="9.00" height="50.39" fill="#d9534a"/>
<rect x="211.50" y="156.66" width="9.10" height="52.94" fill="#9cbc5a"/>
<line x1="158.30" y1="184.15" x2="158.30" y2="183.64" stroke="#333" stroke-width="0.75"/>
<line x1="157.30" y1="183.64" x2="159.30" y2="183.64" stroke="#333" stroke-width="0.7"/>
<line x1="167.10" y1="195.09" x2="167.10" y2="192.29" stroke="#333" stroke-width="0.75"/>
<line x1="166.10" y1="192.29" x2="168.10" y2="192.29" stroke="#333" stroke-width="0.7"/>
<line x1="175.90" y1="179.82" x2="175.90" y2="172.70" stroke="#333" stroke-width="0.75"/>
<line x1="174.90" y1="172.70" x2="176.90" y2="172.70" stroke="#333" stroke-width="0.7"/>
<line x1="198.20" y1="151.57" x2="198.20" y2="143.94" stroke="#333" stroke-width="0.75"/>
<line x1="197.20" y1="143.94" x2="199.20" y2="143.94" stroke="#333" stroke-width="0.7"/>
<line x1="207.00" y1="159.21" x2="207.00" y2="150.56" stroke="#333" stroke-width="0.75"/>
<line x1="206.00" y1="150.56" x2="208.00" y2="150.56" stroke="#333" stroke-width="0.7"/>
<line x1="216.00" y1="156.66" x2="216.00" y2="142.16" stroke="#333" stroke-width="0.75"/>
<line x1="215.00" y1="142.16" x2="217.00" y2="142.16" stroke="#333" stroke-width="0.7"/>
<polyline points="158.80,182.00 158.80,178.80 166.30,178.80 166.30,188.80" fill="none" stroke="#444" stroke-width="0.6"/>
<text x="162.50" y="178.20" font-size="4.8" text-anchor="middle" fill="#1a1a1a" transform="translate(0 -21.384) scale(1 1.12)">*</text>
<polyline points="166.60,188.00 166.60,167.60 176.00,167.60 176.00,170.50" fill="none" stroke="#444" stroke-width="0.6"/>
<text x="171.30" y="167.00" font-size="4.8" text-anchor="middle" fill="#1a1a1a" transform="translate(0 -20.040) scale(1 1.12)">*</text>
<polyline points="198.50,143.50 198.50,140.20 206.30,140.20 206.30,150.50" fill="none" stroke="#444" stroke-width="0.6"/>
<text x="202.00" y="140.40" font-size="5.0" text-anchor="middle" fill="#1a1a1a" transform="translate(0 -16.848) scale(1 1.12)">n.s.</text>
<polyline points="206.60,141.00 206.60,138.10 215.70,138.10 215.70,142.30" fill="none" stroke="#444" stroke-width="0.6"/>
<text x="211.20" y="137.20" font-size="5.0" text-anchor="middle" fill="#1a1a1a" transform="translate(0 -16.464) scale(1 1.12)">n.s.</text>
<text x="169.20" y="217.40" font-size="5.7" text-anchor="middle" fill="#1a1a1a" transform="translate(0 -26.088) scale(1 1.12)">DMSO</text>
<text x="203.20" y="217.40" font-size="5.7" text-anchor="middle" fill="#1a1a1a" transform="translate(0 -26.088) scale(1 1.12)">MG132</text>
<rect x="151.00" y="113.20" width="3.30" height="3.30" fill="#3f7fcc"/>
<text x="156.40" y="116.80" font-size="5.7" fill="#1a1a1a" transform="translate(0 -14.016) scale(1 1.12)">Vector</text>
<rect x="151.00" y="120.70" width="3.30" height="3.30" fill="#d9534a"/>
<text x="156.40" y="124.30" font-size="5.7" fill="#1a1a1a" transform="translate(0 -14.916) scale(1 1.12)">GFP-UBR5</text>
<rect x="151.00" y="128.20" width="3.30" height="3.30" fill="#9cbc5a"/>
<text x="156.40" y="131.80" font-size="5.7" fill="#1a1a1a" transform="translate(0 -15.816) scale(1 1.12)">GFP-UBR5-ΔHECT</text>
<text x="241.50" y="117.20" font-size="13" font-weight="bold" fill="#000">G</text>
<text x="317.60" y="114.20" font-size="5.7" text-anchor="middle" fill="#1a1a1a" transform="translate(0 -13.704) scale(1 1.12)">IP:</text>
<text x="317.80" y="120.20" font-size="5.7" text-anchor="middle" fill="#1a1a1a" transform="translate(0 -14.424) scale(1 1.12)">V5 Agarose</text>
<line x1="301.00" y1="122.10" x2="334.20" y2="122.10" stroke="#333" stroke-width="0.8"/>
<text x="295.20" y="130.00" font-size="5.7" text-anchor="end" fill="#1a1a1a" transform="translate(0 -15.600) scale(1 1.12)">Empty vector</text>
<text x="307.00" y="130.00" font-size="5.6" text-anchor="middle" fill="#1a1a1a" transform="translate(0 -15.600) scale(1 1.12)">+</text>
<text x="318.00" y="130.00" font-size="5.6" text-anchor="middle" fill="#1a1a1a" transform="translate(0 -15.600) scale(1 1.12)">–</text>
<text x="329.00" y="130.00" font-size="5.6" text-anchor="middle" fill="#1a1a1a" transform="translate(0 -15.600) scale(1 1.12)">–</text>
<text x="295.20" y="140.60" font-size="5.7" text-anchor="end" fill="#1a1a1a" transform="translate(0 -16.872) scale(1 1.12)">GFP-UBR5</text>
<text x="307.00" y="140.60" font-size="5.6" text-anchor="middle" fill="#1a1a1a" transform="translate(0 -16.872) scale(1 1.12)">–</text>
<text x="318.00" y="140.60" font-size="5.6" text-anchor="middle" fill="#1a1a1a" transform="translate(0 -16.872) scale(1 1.12)">+</text>
<text x="329.00" y="140.60" font-size="5.6" text-anchor="middle" fill="#1a1a1a" transform="translate(0 -16.872) scale(1 1.12)">–</text>
<text x="295.20" y="149.20" font-size="5.7" text-anchor="end" fill="#1a1a1a" transform="translate(0 -17.904) scale(1 1.12)">GFP-UBR5-ΔHECT</text>
<text x="307.00" y="149.20" font-size="5.6" text-anchor="middle" fill="#1a1a1a" transform="translate(0 -17.904) scale(1 1.12)">–</text>
<text x="318.00" y="149.20" font-size="5.6" text-anchor="middle" fill="#1a1a1a" transform="translate(0 -17.904) scale(1 1.12)">–</text>
<text x="329.00" y="149.20" font-size="5.6" text-anchor="middle" fill="#1a1a1a" transform="translate(0 -17.904) scale(1 1.12)">+</text>
<text x="295.20" y="157.20" font-size="5.7" text-anchor="end" fill="#1a1a1a" transform="translate(0 -18.864) scale(1 1.12)">V5-MYC</text>
<text x="307.00" y="157.20" font-size="5.6" text-anchor="middle" fill="#1a1a1a" transform="translate(0 -18.864) scale(1 1.12)">+</text>
<text x="318.00" y="157.20" font-size="5.6" text-anchor="middle" fill="#1a1a1a" transform="translate(0 -18.864) scale(1 1.12)">+</text>
<text x="329.00" y="157.20" font-size="5.6" text-anchor="middle" fill="#1a1a1a" transform="translate(0 -18.864) scale(1 1.12)">+</text>
<text x="295.20" y="165.00" font-size="5.7" text-anchor="end" fill="#1a1a1a" transform="translate(0 -19.800) scale(1 1.12)">HA-ubiquitin</text>
<text x="307.00" y="165.00" font-size="5.6" text-anchor="middle" fill="#1a1a1a" transform="translate(0 -19.800) scale(1 1.12)">+</text>
<text x="318.00" y="165.00" font-size="5.6" text-anchor="middle" fill="#1a1a1a" transform="translate(0 -19.800) scale(1 1.12)">+</text>
<text x="329.00" y="165.00" font-size="5.6" text-anchor="middle" fill="#1a1a1a" transform="translate(0 -19.800) scale(1 1.12)">+</text>
<text x="295.20" y="173.80" font-size="5.7" text-anchor="end" fill="#1a1a1a" transform="translate(0 -20.856) scale(1 1.12)">MG132</text>
<text x="307.00" y="173.80" font-size="5.6" text-anchor="middle" fill="#1a1a1a" transform="translate(0 -20.856) scale(1 1.12)">+</text>
<text x="318.00" y="173.80" font-size="5.6" text-anchor="middle" fill="#1a1a1a" transform="translate(0 -20.856) scale(1 1.12)">+</text>
<text x="329.00" y="173.80" font-size="5.6" text-anchor="middle" fill="#1a1a1a" transform="translate(0 -20.856) scale(1 1.12)">+</text>
<text x="296.00" y="201.00" font-size="5.7" text-anchor="end" fill="#1a1a1a" transform="translate(0 -24.120) scale(1 1.12)">IB: HA</text>
<text x="296.80" y="242.60" font-size="5.7" text-anchor="end" fill="#1a1a1a" transform="translate(0 -29.112) scale(1 1.12)">GFP</text>
<text x="296.00" y="252.60" font-size="5.7" text-anchor="end" fill="#1a1a1a" transform="translate(0 -30.312) scale(1 1.12)">V5</text>
<g filter="url(#b8)">
<rect x="302.4" y="176.6" width="8.6" height="44" fill="url(#gG1)"/>
<rect x="313.9" y="176.6" width="9.4" height="56" fill="url(#gG2)"/>
<rect x="326.2" y="176.6" width="9.3" height="42" fill="url(#gG3)"/>
</g>
<rect x="302.60" y="176.80" width="8.20" height="3.00" rx="1" fill="#333" fill-opacity="0.50" filter="url(#b6)"/>
<rect x="314.20" y="176.80" width="8.80" height="2.60" rx="1" fill="#333" fill-opacity="0.45" filter="url(#b6)"/>
<rect x="302.60" y="199.00" width="8.20" height="2.20" rx="1" fill="#333" fill-opacity="0.45" filter="url(#b5)"/>
<rect x="326.40" y="199.00" width="8.90" height="2.40" rx="1" fill="#333" fill-opacity="0.45" filter="url(#b5)"/>
<rect x="315.00" y="239.80" width="8.00" height="1.70" rx="0.8" fill="#000" fill-opacity="0.92" filter="url(#b3)"/>
<rect x="325.60" y="239.70" width="9.60" height="1.90" rx="0.8" fill="#000" fill-opacity="0.92" filter="url(#b3)"/>
<rect x="302.00" y="248.80" width="10.00" height="3.80" rx="1.5" fill="#222" fill-opacity="0.75" filter="url(#b5)"/>
<rect x="314.40" y="249.00" width="9.40" height="3.40" rx="1.5" fill="#222" fill-opacity="0.70" filter="url(#b5)"/>
<rect x="325.60" y="249.10" width="9.40" height="3.20" rx="1.5" fill="#222" fill-opacity="0.65" filter="url(#b5)"/>
<text x="357.00" y="117.20" font-size="13" font-weight="bold" fill="#000">H</text>
<text x="395.00" y="146.00" font-size="5.7" text-anchor="middle" fill="#1a1a1a" transform="translate(0 -17.520) scale(1 1.12)">IP:</text>
<text x="408.00" y="145.20" font-size="5.7" fill="#1a1a1a" transform="rotate(-45 408.0 145.2)">Protein A agarose</text>
<text x="423.40" y="145.40" font-size="5.7" fill="#1a1a1a" transform="rotate(-45 423.4 145.4)">V5 agarose</text>
<line x1="403.00" y1="147.80" x2="411.20" y2="147.80" stroke="#333" stroke-width="0.8"/>
<line x1="413.80" y1="147.80" x2="432.20" y2="147.80" stroke="#333" stroke-width="0.8"/>
<text x="397.20" y="155.00" font-size="5.7" text-anchor="end" fill="#1a1a1a" transform="translate(0 -18.600) scale(1 1.12)">Scr</text>
<text x="407.20" y="155.00" font-size="5.6" text-anchor="middle" fill="#1a1a1a" transform="translate(0 -18.600) scale(1 1.12)">+</text>
<text x="418.00" y="155.00" font-size="5.6" text-anchor="middle" fill="#1a1a1a" transform="translate(0 -18.600) scale(1 1.12)">+</text>
<text x="428.80" y="155.00" font-size="5.6" text-anchor="middle" fill="#1a1a1a" transform="translate(0 -18.600) scale(1 1.12)">–</text>
<text x="397.20" y="163.30" font-size="5.7" text-anchor="end" fill="#1a1a1a" transform="translate(0 -19.596) scale(1 1.12)">siUBR5</text>
<text x="407.20" y="163.30" font-size="5.6" text-anchor="middle" fill="#1a1a1a" transform="translate(0 -19.596) scale(1 1.12)">–</text>
<text x="418.00" y="163.30" font-size="5.6" text-anchor="middle" fill="#1a1a1a" transform="translate(0 -19.596) scale(1 1.12)">–</text>
<text x="428.80" y="163.30" font-size="5.6" text-anchor="middle" fill="#1a1a1a" transform="translate(0 -19.596) scale(1 1.12)">+</text>
<text x="397.20" y="172.00" font-size="5.7" text-anchor="end" fill="#1a1a1a" transform="translate(0 -20.640) scale(1 1.12)">V5-MYC</text>
<text x="407.20" y="172.00" font-size="5.6" text-anchor="middle" fill="#1a1a1a" transform="translate(0 -20.640) scale(1 1.12)">+</text>
<text x="418.00" y="172.00" font-size="5.6" text-anchor="middle" fill="#1a1a1a" transform="translate(0 -20.640) scale(1 1.12)">+</text>
<text x="428.80" y="172.00" font-size="5.6" text-anchor="middle" fill="#1a1a1a" transform="translate(0 -20.640) scale(1 1.12)">+</text>
<text x="397.20" y="180.00" font-size="5.7" text-anchor="end" fill="#1a1a1a" transform="translate(0 -21.600) scale(1 1.12)">HA-ubiquitin</text>
<text x="407.20" y="180.00" font-size="5.6" text-anchor="middle" fill="#1a1a1a" transform="translate(0 -21.600) scale(1 1.12)">+</text>
<text x="418.00" y="180.00" font-size="5.6" text-anchor="middle" fill="#1a1a1a" transform="translate(0 -21.600) scale(1 1.12)">+</text>
<text x="428.80" y="180.00" font-size="5.6" text-anchor="middle" fill="#1a1a1a" transform="translate(0 -21.600) scale(1 1.12)">+</text>
<text x="397.20" y="188.30" font-size="5.7" text-anchor="end" fill="#1a1a1a" transform="translate(0 -22.596) scale(1 1.12)">MG132</text>
<text x="407.20" y="188.30" font-size="5.6" text-anchor="middle" fill="#1a1a1a" transform="translate(0 -22.596) scale(1 1.12)">+</text>
<text x="418.00" y="188.30" font-size="5.6" text-anchor="middle" fill="#1a1a1a" transform="translate(0 -22.596) scale(1 1.12)">+</text>
<text x="428.80" y="188.30" font-size="5.6" text-anchor="middle" fill="#1a1a1a" transform="translate(0 -22.596) scale(1 1.12)">+</text>
<rect x="400.00" y="190.00" width="38.70" height="60.50" fill="#a9a9a9"/>
<g filter="url(#b10)">
<path d="M412.6,190.3 L423.4,190.3 L423.2,215 L422.8,232 L421.6,248 L416.2,248 L414.6,232 L413.0,212 Z" fill="url(#gH2)"/>
<path d="M424.0,190.3 L433.6,190.3 L433.4,215 L432.0,240 L427.0,240 L424.6,215 Z" fill="url(#gH3)"/>
</g>
<rect x="425.50" y="191.50" width="7.00" height="2.20" rx="1" fill="#555" fill-opacity="0.40" filter="url(#b6)"/>
<rect x="425.50" y="195.00" width="7.00" height="1.60" rx="1" fill="#555" fill-opacity="0.35" filter="url(#b6)"/>
<text x="397.60" y="224.20" font-size="5.7" text-anchor="end" fill="#1a1a1a" transform="translate(0 -26.904) scale(1 1.12)">IB: HA</text>
<rect x="400.00" y="253.20" width="38.70" height="7.60" fill="#a8a8a8"/>
<rect x="400.00" y="264.00" width="38.70" height="9.80" fill="#a6a6a6"/>
<text x="397.20" y="259.60" font-size="5.7" text-anchor="end" fill="#1a1a1a" transform="translate(0 -31.152) scale(1 1.12)">UBR5</text>
<text x="397.20" y="270.80" font-size="5.7" text-anchor="end" fill="#1a1a1a" transform="translate(0 -32.496) scale(1 1.12)">V5</text>
<rect x="403.80" y="256.60" width="9.20" height="2.40" rx="1" fill="#000" fill-opacity="0.90" filter="url(#b4)"/>
<rect x="415.40" y="256.40" width="8.60" height="2.40" rx="1" fill="#000" fill-opacity="0.90" filter="url(#b4)"/>
<rect x="427.00" y="256.60" width="8.00" height="1.60" rx="1" fill="#666" fill-opacity="0.15" filter="url(#b5)"/>
<rect x="403.60" y="267.40" width="9.00" height="3.20" rx="1.2" fill="#111" fill-opacity="0.85" filter="url(#b5)"/>
<rect x="415.00" y="267.40" width="9.00" height="3.20" rx="1.2" fill="#111" fill-opacity="0.85" filter="url(#b5)"/>
<rect x="426.00" y="267.40" width="9.40" height="3.20" rx="1.2" fill="#111" fill-opacity="0.85" filter="url(#b5)"/>
<line x1="440.70" y1="255.20" x2="440.70" y2="273.80" stroke="#333" stroke-width="0.8"/>
<text x="445.00" y="265.80" font-size="5.7" fill="#1a1a1a" transform="translate(0 -31.896) scale(1 1.12)">Input</text>
<text x="0.50" y="244.00" font-size="13" font-weight="bold" fill="#000">I</text>
<text x="51.40" y="249.20" font-size="5.7" text-anchor="end" fill="#1a1a1a" transform="translate(0 -29.904) scale(1 1.12)">IP:</text>
<text x="73.40" y="249.00" font-size="5.7" text-anchor="middle" fill="#1a1a1a" transform="translate(0 -29.880) scale(1 1.12)">V5 Agarose</text>
<line x1="55.00" y1="251.60" x2="91.30" y2="251.60" stroke="#333" stroke-width="0.8"/>
<text x="50.20" y="256.80" font-size="5.7" text-anchor="end" fill="#1a1a1a" transform="translate(0 -30.816) scale(1 1.12)">Empty vector</text>
<text x="60.60" y="256.80" font-size="5.6" text-anchor="middle" fill="#1a1a1a" transform="translate(0 -30.816) scale(1 1.12)">–</text>
<text x="73.00" y="256.80" font-size="5.6" text-anchor="middle" fill="#1a1a1a" transform="translate(0 -30.816) scale(1 1.12)">+</text>
<text x="86.20" y="256.80" font-size="5.6" text-anchor="middle" fill="#1a1a1a" transform="translate(0 -30.816) scale(1 1.12)">–</text>
<text x="50.20" y="266.20" font-size="5.7" text-anchor="end" fill="#1a1a1a" transform="translate(0 -31.944) scale(1 1.12)">GFP-UBR5</text>
<text x="60.60" y="266.20" font-size="5.6" text-anchor="middle" fill="#1a1a1a" transform="translate(0 -31.944) scale(1 1.12)">–</text>
<text x="73.00" y="266.20" font-size="5.6" text-anchor="middle" fill="#1a1a1a" transform="translate(0 -31.944) scale(1 1.12)">–</text>
<text x="86.20" y="266.20" font-size="5.6" text-anchor="middle" fill="#1a1a1a" transform="translate(0 -31.944) scale(1 1.12)">+</text>
<text x="50.20" y="274.40" font-size="5.7" text-anchor="end" fill="#1a1a1a" transform="translate(0 -32.928) scale(1 1.12)">V5-MYC</text>
<text x="60.60" y="274.40" font-size="5.6" text-anchor="middle" fill="#1a1a1a" transform="translate(0 -32.928) scale(1 1.12)">–</text>
<text x="73.00" y="274.40" font-size="5.6" text-anchor="middle" fill="#1a1a1a" transform="translate(0 -32.928) scale(1 1.12)">+</text>
<text x="86.20" y="274.40" font-size="5.6" text-anchor="middle" fill="#1a1a1a" transform="translate(0 -32.928) scale(1 1.12)">+</text>
<text x="50.20" y="282.60" font-size="5.7" text-anchor="end" fill="#1a1a1a" transform="translate(0 -33.912) scale(1 1.12)">MG132</text>
<text x="60.60" y="282.60" font-size="5.6" text-anchor="middle" fill="#1a1a1a" transform="translate(0 -33.912) scale(1 1.12)">+</text>
<text x="73.00" y="282.60" font-size="5.6" text-anchor="middle" fill="#1a1a1a" transform="translate(0 -33.912) scale(1 1.12)">+</text>
<text x="86.20" y="282.60" font-size="5.6" text-anchor="middle" fill="#1a1a1a" transform="translate(0 -33.912) scale(1 1.12)">+</text>
<rect x="53.60" y="286.70" width="41.40" height="53.90" fill="#a2a2a2"/>
<g filter="url(#b12)">
<path d="M81.3,287.2 L92.0,287.2 L91.8,300 L90.5,314 L88.8,330 L85.8,330 L84,314 L82,300 Z" fill="url(#gI3)"/>
<rect x="68.5" y="289" width="9.5" height="24" fill="#888" fill-opacity="0.25"/>
</g>
<text x="47.60" y="311.00" font-size="5.7" text-anchor="end" fill="#1a1a1a" transform="translate(0 -37.320) scale(1 1.12)">IB:</text>
<text x="49.60" y="318.20" font-size="5.7" text-anchor="end" fill="#1a1a1a" transform="translate(0 -38.184) scale(1 1.12)">ubiquitin K48</text>
<rect x="53.60" y="344.00" width="41.40" height="9.20" fill="#a5a5a5"/>
<rect x="53.60" y="357.30" width="41.40" height="12.00" fill="#a3a3a3"/>
<text x="51.90" y="350.80" font-size="5.7" text-anchor="end" fill="#1a1a1a" transform="translate(0 -42.096) scale(1 1.12)">GFP</text>
<text x="51.40" y="366.20" font-size="5.7" text-anchor="end" fill="#1a1a1a" transform="translate(0 -43.944) scale(1 1.12)">V5</text>
<rect x="81.30" y="347.60" width="10.00" height="2.60" rx="1" fill="#000" fill-opacity="0.95" filter="url(#b4)"/>
<rect x="66.80" y="361.80" width="10.80" height="4.80" rx="2" fill="#000" fill-opacity="1.00" filter="url(#b5)"/>
<rect x="80.20" y="362.00" width="11.50" height="4.40" rx="2" fill="#000" fill-opacity="1.00" filter="url(#b5)"/>
<line x1="97.80" y1="346.20" x2="97.80" y2="366.80" stroke="#333" stroke-width="0.8"/>
<text x="98.90" y="357.80" font-size="5.7" fill="#1a1a1a" transform="translate(0 -42.936) scale(1 1.12)">Input</text>
<text x="114.50" y="244.20" font-size="13" font-weight="bold" fill="#000">J</text>
<text x="223.80" y="249.80" font-size="5.7" fill="#1a1a1a" transform="translate(0 -29.976) scale(1 1.12)">E1+E2+Ub</text>
<text x="139.50" y="249.80" font-size="5.6" text-anchor="middle" fill="#1a1a1a" transform="translate(0 -29.976) scale(1 1.12)">–</text>
<text x="151.25" y="249.80" font-size="5.6" text-anchor="middle" fill="#1a1a1a" transform="translate(0 -29.976) scale(1 1.12)">+</text>
<text x="163.00" y="249.80" font-size="5.6" text-anchor="middle" fill="#1a1a1a" transform="translate(0 -29.976) scale(1 1.12)">+</text>
<text x="174.75" y="249.80" font-size="5.6" text-anchor="middle" fill="#1a1a1a" transform="translate(0 -29.976) scale(1 1.12)">+</text>
<text x="186.50" y="249.80" font-size="5.6" text-anchor="middle" fill="#1a1a1a" transform="translate(0 -29.976) scale(1 1.12)">+</text>
<text x="198.25" y="249.80" font-size="5.6" text-anchor="middle" fill="#1a1a1a" transform="translate(0 -29.976) scale(1 1.12)">+</text>
<text x="210.00" y="249.80" font-size="5.6" text-anchor="middle" fill="#1a1a1a" transform="translate(0 -29.976) scale(1 1.12)">+</text>
<text x="223.80" y="257.30" font-size="5.7" fill="#1a1a1a" transform="translate(0 -30.876) scale(1 1.12)">GST-MYC(1-262)</text>
<text x="139.50" y="257.30" font-size="5.6" text-anchor="middle" fill="#1a1a1a" transform="translate(0 -30.876) scale(1 1.12)">+</text>
<text x="151.25" y="257.30" font-size="5.6" text-anchor="middle" fill="#1a1a1a" transform="translate(0 -30.876) scale(1 1.12)">+</text>
<text x="163.00" y="257.30" font-size="5.6" text-anchor="middle" fill="#1a1a1a" transform="translate(0 -30.876) scale(1 1.12)">+</text>
<text x="174.75" y="257.30" font-size="5.6" text-anchor="middle" fill="#1a1a1a" transform="translate(0 -30.876) scale(1 1.12)">+</text>
<text x="186.50" y="257.30" font-size="5.6" text-anchor="middle" fill="#1a1a1a" transform="translate(0 -30.876) scale(1 1.12)">+</text>
<text x="198.25" y="257.30" font-size="5.6" text-anchor="middle" fill="#1a1a1a" transform="translate(0 -30.876) scale(1 1.12)">–</text>
<text x="210.00" y="257.30" font-size="5.6" text-anchor="middle" fill="#1a1a1a" transform="translate(0 -30.876) scale(1 1.12)">–</text>
<text x="223.80" y="265.30" font-size="5.7" fill="#1a1a1a" transform="translate(0 -31.836) scale(1 1.12)">GFP-UBR5</text>
<text x="139.50" y="265.30" font-size="5.6" text-anchor="middle" fill="#1a1a1a" transform="translate(0 -31.836) scale(1 1.12)">–</text>
<text x="151.25" y="265.30" font-size="5.6" text-anchor="middle" fill="#1a1a1a" transform="translate(0 -31.836) scale(1 1.12)">–</text>
<text x="163.00" y="265.30" font-size="5.6" text-anchor="middle" fill="#1a1a1a" transform="translate(0 -31.836) scale(1 1.12)">–</text>
<text x="174.75" y="265.30" font-size="5.6" text-anchor="middle" fill="#1a1a1a" transform="translate(0 -31.836) scale(1 1.12)">+</text>
<text x="186.50" y="265.30" font-size="5.6" text-anchor="middle" fill="#1a1a1a" transform="translate(0 -31.836) scale(1 1.12)">+</text>
<text x="198.25" y="265.30" font-size="5.6" text-anchor="middle" fill="#1a1a1a" transform="translate(0 -31.836) scale(1 1.12)">+</text>
<text x="210.00" y="265.30" font-size="5.6" text-anchor="middle" fill="#1a1a1a" transform="translate(0 -31.836) scale(1 1.12)">+</text>
<text x="223.80" y="273.20" font-size="5.7" fill="#1a1a1a" transform="translate(0 -32.784) scale(1 1.12)">ATP</text>
<text x="139.50" y="273.20" font-size="5.6" text-anchor="middle" fill="#1a1a1a" transform="translate(0 -32.784) scale(1 1.12)">–</text>
<text x="151.25" y="273.20" font-size="5.6" text-anchor="middle" fill="#1a1a1a" transform="translate(0 -32.784) scale(1 1.12)">–</text>
<text x="163.00" y="273.20" font-size="5.6" text-anchor="middle" fill="#1a1a1a" transform="translate(0 -32.784) scale(1 1.12)">+</text>
<text x="174.75" y="273.20" font-size="5.6" text-anchor="middle" fill="#1a1a1a" transform="translate(0 -32.784) scale(1 1.12)">–</text>
<text x="186.50" y="273.20" font-size="5.6" text-anchor="middle" fill="#1a1a1a" transform="translate(0 -32.784) scale(1 1.12)">+</text>
<text x="198.25" y="273.20" font-size="5.6" text-anchor="middle" fill="#1a1a1a" transform="translate(0 -32.784) scale(1 1.12)">–</text>
<text x="210.00" y="273.20" font-size="5.6" text-anchor="middle" fill="#1a1a1a" transform="translate(0 -32.784) scale(1 1.12)">+</text>
<rect x="134.20" y="276.40" width="88.60" height="57.00" fill="#dadada" stroke="#7a7a7a" stroke-width="1.1"/>
<rect x="193.50" y="277.00" width="28.80" height="56.00" fill="#e4e4e4"/>
<g filter="url(#b7)">
<rect x="136.40" y="277.2" width="10.0" height="52" fill="url(#gJ1)"/>
<rect x="147.70" y="277.2" width="10.0" height="52" fill="url(#gJ1)"/>
<rect x="158.70" y="277.2" width="10.0" height="52" fill="url(#gJ1)"/>
<rect x="169.80" y="277.2" width="10.0" height="52" fill="url(#gJ1)"/>
<rect x="181.60" y="277.2" width="10.0" height="52" fill="url(#gJ5)"/>
</g>
<rect x="136.60" y="292.50" width="9.60" height="6.00" rx="2" fill="#888" fill-opacity="0.40" filter="url(#b10)"/>
<rect x="147.90" y="292.50" width="9.60" height="6.00" rx="2" fill="#888" fill-opacity="0.40" filter="url(#b10)"/>
<rect x="158.90" y="292.50" width="9.60" height="6.00" rx="2" fill="#888" fill-opacity="0.40" filter="url(#b10)"/>
<rect x="170.00" y="292.50" width="9.60" height="6.00" rx="2" fill="#888" fill-opacity="0.40" filter="url(#b10)"/>
<rect x="181.80" y="292.50" width="9.60" height="5.00" rx="2" fill="#888" fill-opacity="0.20" filter="url(#b10)"/>
<rect x="136.40" y="325.80" width="10.00" height="5.70" rx="2.2" fill="#000" fill-opacity="1.00" filter="url(#b4)"/>
<rect x="147.70" y="325.80" width="10.00" height="5.70" rx="2.2" fill="#000" fill-opacity="1.00" filter="url(#b4)"/>
<rect x="158.70" y="325.80" width="10.00" height="5.70" rx="2.2" fill="#000" fill-opacity="1.00" filter="url(#b4)"/>
<rect x="169.80" y="325.80" width="10.00" height="5.70" rx="2.2" fill="#000" fill-opacity="1.00" filter="url(#b4)"/>
<rect x="181.60" y="325.80" width="10.00" height="5.70" rx="2.2" fill="#000" fill-opacity="1.00" filter="url(#b4)"/>
<rect x="159.00" y="319.30" width="9.40" height="3.80" rx="1.5" fill="#000" fill-opacity="1.00" filter="url(#b4)"/>
<rect x="159.70" y="317.00" width="8.00" height="2.00" rx="1" fill="#555" fill-opacity="0.35" filter="url(#b5)"/>
<rect x="181.80" y="314.00" width="9.60" height="7.60" rx="2.0" fill="#000" fill-opacity="1.00" filter="url(#b5)"/>
<rect x="182.60" y="317.60" width="8.00" height="0.90" rx="0.4" fill="#fff" fill-opacity="0.12" filter="url(#b5)"/>
<rect x="194.20" y="322.80" width="9.60" height="2.00" rx="1" fill="#999" fill-opacity="0.30" filter="url(#b8)"/>
<rect x="206.20" y="322.80" width="9.60" height="2.00" rx="1" fill="#999" fill-opacity="0.30" filter="url(#b8)"/>
<text x="133.60" y="294.30" font-size="5.6" text-anchor="end" fill="#1a1a1a" transform="translate(0 -35.316) scale(1 1.12)">250-</text>
<text x="133.60" y="302.10" font-size="5.6" text-anchor="end" fill="#1a1a1a" transform="translate(0 -36.252) scale(1 1.12)">150-</text>
<text x="133.60" y="312.30" font-size="5.6" text-anchor="end" fill="#1a1a1a" transform="translate(0 -37.476) scale(1 1.12)">100-</text>
<text x="133.60" y="320.10" font-size="5.6" text-anchor="end" fill="#1a1a1a" transform="translate(0 -38.412) scale(1 1.12)">75-</text>
<text x="224.80" y="306.60" font-size="5.7" fill="#1a1a1a" transform="translate(0 -36.792) scale(1 1.12)">IB: GST</text>
<rect x="134.20" y="335.40" width="88.60" height="10.80" fill="#f2f2f2" stroke="#7a7a7a" stroke-width="1.1"/>
<rect x="170.30" y="339.80" width="8.50" height="1.60" rx="0.8" fill="#777" fill-opacity="0.55" filter="url(#b5)"/>
<rect x="182.60" y="339.90" width="8.00" height="1.30" rx="0.6" fill="#999" fill-opacity="0.35" filter="url(#b5)"/>
<rect x="195.00" y="339.90" width="8.00" height="1.30" rx="0.6" fill="#999" fill-opacity="0.35" filter="url(#b5)"/>
<rect x="207.00" y="339.90" width="8.00" height="1.30" rx="0.6" fill="#999" fill-opacity="0.35" filter="url(#b5)"/>
<text x="133.60" y="347.30" font-size="5.6" text-anchor="end" fill="#1a1a1a" transform="translate(0 -41.676) scale(1 1.12)">250-</text>
<text x="224.80" y="342.20" font-size="5.7" fill="#1a1a1a" transform="translate(0 -41.064) scale(1 1.12)">IB: GFP</text></svg>
</body></html>
